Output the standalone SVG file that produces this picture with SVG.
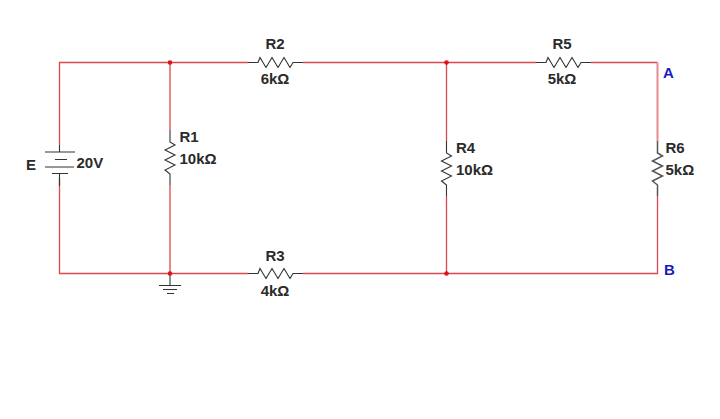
<svg xmlns="http://www.w3.org/2000/svg" width="720" height="419" viewBox="0 0 720 419">
<defs>
<style>
.w{fill:none;stroke:#d9484c;stroke-width:1.3}
.p{fill:none;stroke:#ea8a8c;stroke-width:2}
.c{fill:none;stroke:#333;stroke-width:1.1}
.t{font-family:"Liberation Sans",Arial,sans-serif;font-size:15px;font-weight:bold;fill:#2b2b2b}
.m{text-anchor:middle}
.d{fill:#e0141c}
.b{font-family:"Liberation Sans",Arial,sans-serif;font-size:15px;font-weight:bold;fill:#1a1ac0}
</style>
<path id="h" d="M0 0H10L12 -5L18 5L24 -5L30 5L36 -5L42 5L45 0H55"/>
<path id="v" d="M0 0V12L5 15L-5 20L5 25L-5 30L5 35L-5 40L0 44V55"/>
</defs>
<rect width="720" height="419" fill="#fff"/>
<g id="connectors">
<path class="w" d="M59.500 145V62.500H248M303 62.500H536"/>
<path class="w" d="M591 62.500H657.500M657.500 196V273.500H303M248 273.500H59.500V178"/>
<path class="p" d="M657.500 62.500V141"/>
<path class="w" d="M170 62.500V130M170 185V273.500"/>
<path class="w" d="M446.500 62.500V141M446.500 196V273.500"/>
</g>
<g id="E">
<path class="c" d="M59.500 145V152M45 152H75M55 159.500H67M45 167H74M52 173.500H68M59.500 173.500V186"/>
<text class="t m" x="31" y="170">E</text>
<text class="t" x="76.500" y="168">20V</text>
</g>
<g id="R1">
<use href="#v" class="c" x="170" y="130"/>
<text class="t" x="179.500" y="141.500">R1</text>
<text class="t" x="179.500" y="164">10kΩ</text>
</g>
<g id="R2">
<use href="#h" class="c" x="248" y="62.500"/>
<text class="t m" x="275" y="48.500">R2</text>
<text class="t m" x="275" y="84">6kΩ</text>
</g>
<g id="R3">
<use href="#h" class="c" x="248" y="273.500"/>
<text class="t m" x="275" y="261">R3</text>
<text class="t m" x="275" y="296">4kΩ</text>
</g>
<g id="R4">
<use href="#v" class="c" x="446.500" y="141"/>
<text class="t" x="456" y="152.500">R4</text>
<text class="t" x="456" y="175">10kΩ</text>
</g>
<g id="R5">
<use href="#h" class="c" x="536" y="62.500"/>
<text class="t m" x="562" y="48.500">R5</text>
<text class="t m" x="562" y="84">5kΩ</text>
</g>
<g id="R6">
<use href="#v" class="c" x="657.500" y="141" style="stroke-width:1.500;stroke:#555"/>
<text class="t" x="665.500" y="152.500">R6</text>
<text class="t" x="665.500" y="175">5kΩ</text>
</g>
<g id="GND">
<path class="c" d="M170 273.500V285M159 285.500H181M163 289.500H177M167 293.500H174"/>
</g>
<g id="A"><text class="b" x="663" y="78">A</text></g>
<g id="B"><text class="b" x="664" y="275">B</text></g>
<g id="junctions">
<circle class="d" cx="170" cy="62.500" r="2.300"/>
<circle class="d" cx="446.500" cy="62.500" r="2.300"/>
<circle class="d" cx="170" cy="273.500" r="2.300"/>
<circle class="d" cx="446.500" cy="273.500" r="2.300"/>
</g>
</svg>
